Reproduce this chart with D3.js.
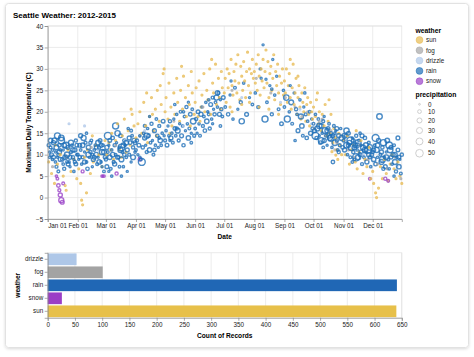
<!DOCTYPE html>
<html><head><meta charset="utf-8">
<script src="https://cdn.jsdelivr.net/npm/d3@7"></script>
<style>
html,body{margin:0;padding:0;background:#fff;}
svg{display:block;font-family:"Liberation Sans",Arial,sans-serif;}
</style></head><body>
<svg id="chart" width="474" height="357"></svg>
<script>
// ---------- data (day offset from Jan 01, max temp °C, precipitation mm) ----------
const weatherTypes = ["sun","fog","drizzle","rain","snow"];
const weatherColors = ["#e7ba52","#a7a7a7","#aec7e8","#1f6fb8","#9b45c8"];
const barColors = ["#e7c04a","#a3a3a3","#aec7e8","#2067b5","#9b3ec6"];
const barCategories = ["drizzle","fog","rain","snow","sun"];
const barCounts = [53,101,641,26,640];
const yTicks = [-5,0,5,10,15,20,25,30,35,40];
const barTicks = [0,50,100,150,200,250,300,350,400,450,500,550,600,650];
const precipLegend = [0,10,20,30,40,50];

const rainDays = [
[1,12.2,6],[2,10.6,1],[3,11.7,4],[4,10,9],[5,8.9,3],[6,12.8,12],[7,13.3,20],[8,8.3,2],[9,7.2,5],[10,9.4,1],[11,6.1,4],[12,10.6,14],[13,11.1,2],[14,13.9,25],[15,8.9,8],[16,7.8,3],[17,6.7,6],[18,9.4,16],[19,12.2,30],[20,10,22],[21,11.7,9],[22,8.3,2],[23,7.2,1],[24,10.6,5],[25,12.2,3],[26,9.4,7],[27,8.9,1],[28,11.1,12],[29,13.3,6],[30,10,2],[2,9.4,2],[5,11.1,3],[8,10.6,1],[12,12.2,8],[16,11.1,1],[20,8.3,4],[23,9.4,11],[27,6.1,2],[29,7.8,9],[10,14.4,28],[14,13.3,35],
[3,13.3,15],[6,9.4,10],[9,11.7,18],[11,10,6],[13,8.9,12],[17,12.2,16],[19,9.4,3],[21,7.8,10],[24,12.8,20],[26,11.1,14],[28,8.3,6],[30,12.2,9],
[31,10,4],[32,8.9,1],[33,12.2,10],[34,11.1,3],[35,7.8,2],[36,9.4,6],[37,13.9,20],[38,10.6,1],[39,12.8,5],[40,8.3,3],[41,6.7,8],[42,11.7,14],[43,9.4,2],[44,10.6,7],[45,13.3,4],[46,7.2,1],[47,8.9,11],[48,11.1,3],[49,12.2,2],[50,10,16],[51,7.8,5],[52,9.4,1],[53,11.7,6],[54,13.3,9],[55,8.3,2],[56,10.6,22],[57,12.2,4],[58,6.1,3],[59,9.4,8],[34,14.4,12],[40,15,2],[46,10,3],[52,12.8,18],[56,7.2,1],
[33,9.4,8],[36,12.2,15],[38,8.3,12],[42,10,20],[44,12.8,6],[48,9.4,10],[50,11.7,9],[53,8.3,14],[55,12.2,12],[58,10.6,18],
[60,8.9,6],[61,7.2,10],[62,10.6,3],[63,12.2,1],[64,9.4,15],[65,6.7,4],[66,11.1,2],[67,13.9,8],[68,8.3,5],[69,7.8,12],[70,10,3],[71,12.8,1],[72,15,22],[73,9.4,6],[74,11.7,2],[75,14.4,9],[76,8.9,18],[77,10.6,4],[78,7.2,2],[79,13.3,7],[80,12.2,1],[81,9.4,3],[82,11.1,11],[83,16.1,2],[84,10,5],[85,12.8,8],[86,8.3,1],[87,14.4,3],[88,11.7,6],[89,13.3,13],[90,10.6,2],[63,6.1,1],[66,5,2],[70,16.7,30],[74,7.2,3],[78,12.2,16],[82,6.1,1],[86,15.6,4],[62,14.4,40],[76,11.7,36],[76,5,2],
[61,11.7,12],[64,13.3,9],[67,10,16],[69,12.2,6],[72,9.4,10],[75,11.1,20],[79,10,8],[81,12.8,15],[84,13.9,11],[88,9.4,18],[90,12.8,9],
[91,11.1,3],[92,13.3,6],[93,10,1],[94,12.2,9],[95,14.4,2],[96,8.9,4],[97,8.3,40],[98,11.7,7],[99,15,3],[100,13.9,12],[101,12.2,1],[102,10.6,5],[103,16.1,2],[104,14.4,8],[105,11.1,14],[106,12.8,3],[107,17.2,6],[108,13.3,1],[109,10,4],[110,15.6,10],[111,12.2,2],[112,18.3,3],[113,14.4,7],[114,11.7,1],[115,16.7,5],[116,13.3,15],[117,12.2,3],[118,15,2],[119,17.8,9],[120,14.4,1],[95,9.4,2],[100,16.7,4],[105,18.9,1],[110,11.1,8],[115,13.9,3],[102,14.4,22],
[121,13.3,5],[122,15.6,2],[123,12.2,9],[124,16.7,1],[125,14.4,3],[126,17.8,6],[127,13.9,12],[128,15,2],[129,12.8,4],[130,18.3,1],[131,16.1,8],[132,14.4,3],[133,19.4,2],[134,15.6,18],[135,13.3,5],[136,17.2,1],[137,20,4],[138,14.4,10],[139,16.7,2],[140,12.2,7],[141,18.9,3],[142,15.6,1],[143,21.1,6],[144,17.2,2],[145,13.9,14],[146,16.1,4],[147,19.4,9],[148,15,1],[149,20.6,3],[150,17.8,25],[151,14.4,5],[126,13.3,1],[133,16.1,6],[140,20,2],[145,22.2,1],[148,12.8,3],[131,21.7,2],
[152,16.1,3],[153,18.3,6],[154,15,1],[155,20,9],[156,17.2,2],[157,14.4,4],[158,19.4,12],[159,21.1,1],[160,16.7,5],[161,18.9,3],[162,15.6,8],[163,22.2,2],[164,17.8,15],[165,20,1],[166,19.4,4],[167,16.1,6],[168,21.7,10],[169,18.3,2],[170,23.3,5],[171,20.6,1],[172,19.4,7],[173,22.2,3],[174,23.3,20],[175,21.1,2],[176,24.4,4],[177,19.4,11],[178,22.8,1],[179,20.6,6],[180,18.9,3],[181,23.3,9],[166,22.8,2],[170,17.2,1],[175,24.4,13],[178,16.7,3],
[183,21.1,3],[186,19.4,8],[188,23.9,1],[191,18.3,2],[193,25.6,4],[196,20.6,1],[199,22.2,6],[202,26.7,2],[205,19.4,10],[208,23.3,1],[211,21.7,3],[189,27.2,1],[200,17.8,22],
[214,24.4,2],[217,21.1,5],[220,27.8,1],[222,35.6,1],[224,18.3,30],[226,22.2,3],[229,26.1,1],[231,19.4,6],[234,23.9,2],[236,28.3,1],[238,20.6,4],[241,17.2,9],[243,25,2],[219,30,1],[232,32.2,1],[225,27.6,1],[231,25.3,2],
[244,21.1,3],[246,23.3,25],[247,18.3,30],[249,20,2],[251,22.2,18],[252,17.2,4],[254,24.4,1],[256,20.6,6],[257,19.4,3],[258,15.6,10],[260,22.8,2],[261,18.9,20],[262,16.7,15],[263,14.4,4],[264,21.1,1],[266,19.4,5],[267,13.9,8],[268,17.8,2],[270,20,3],[271,15,12],[272,18.3,1],[273,16.1,6],[250,26.1,1],[255,13.3,2],[265,24.4,2],
[274,17.2,4],[275,15.6,10],[276,19.4,2],[277,13.9,6],[278,16.1,20],[279,18.3,3],[280,14.4,1],[281,12.8,8],[282,16.7,15],[283,15,2],[284,17.8,5],[285,13.3,12],[286,15.6,30],[287,14.4,4],[288,12.2,1],[289,16.1,9],[290,17.2,3],[291,13.9,18],[292,15,6],[293,11.7,2],[294,14.4,11],[295,16.7,4],[296,12.8,25],[297,15.6,1],[298,13.3,7],[299,11.1,3],[300,14.4,13],[301,12.2,5],[302,16.1,2],[303,13.9,20],[304,11.7,8],[276,14.4,40],[280,16.7,22],[284,11.7,3],[288,15.6,14],[292,13.9,35],[296,15,2],[300,10.6,6],[285,18.9,1],[282,13.3,28],[290,14.4,16],[298,16.1,10],[294,8.3,8],
[305,13.3,5],[306,11.1,12],[307,14.4,3],[308,12.2,25],[309,10,2],[310,15,9],[311,12.8,16],[312,9.4,4],[313,11.7,30],[314,13.9,1],[315,10.6,7],[316,8.9,3],[317,12.2,14],[318,14.4,6],[319,11.1,2],[320,9.4,20],[321,13.3,4],[322,10,10],[323,12.2,1],[324,7.8,5],[325,11.7,18],[326,9.4,3],[327,13.9,8],[328,10.6,2],[329,8.3,12],[330,11.1,35],[331,12.8,4],[332,9.4,6],[333,7.2,2],[334,10,9],[308,15.6,22],[312,13.3,40],[316,11.7,15],[320,12.8,28],[324,14.4,11],[328,12.2,19],[332,11.7,24],[314,8.3,3],[322,15,2],[318,9.4,44],
[306,14.4,18],[310,12.2,12],[315,13.3,9],[319,12.2,16],[323,10.6,12],[327,11.1,20],[331,10,14],
[335,10.6,6],[336,8.9,14],[337,12.2,3],[338,7.8,9],[339,11.1,22],[340,9.4,2],[341,13.3,12],[342,18.9,25],[343,10,4],[344,8.3,18],[345,11.7,7],[346,12.8,30],[347,9.4,3],[348,7.2,10],[349,10.6,1],[350,13.3,16],[351,8.9,5],[352,6.7,2],[353,11.1,25],[354,9.4,8],[355,7.8,3],[356,10,12],[357,12.2,4],[358,8.3,20],[359,6.1,6],[360,9.4,2],[361,11.1,9],[362,7.2,15],[363,8.9,1],[364,5.6,4],[365,10,7],[338,13.9,40],[345,8.9,28],[352,12.2,35],[357,5,2],[361,13.9,10],[346,6.7,6],
[336,11.1,10],[340,12.2,16],[344,10.6,12],[349,9.4,18],[354,11.7,9],[358,10,14],[362,9.4,10]
];

const sunDays = [
[1,8.3,0],[4,5.6,0],[7,3.3,0],[10,7.8,0],[13,10,0],[16,5,0],[18,2.8,0],[21,11.1,0],[24,6.1,0],[27,8.9,0],[30,4.4,0],[8,12.2,0],[19,1.7,0],
[32,6.7,0],[34,3.3,0],[35,-0.6,0],[36,-1.7,0],[38,9.4,0],[41,11.1,0],[44,5.6,0],[47,8.3,0],[50,12.2,0],[53,10,0],[56,7.2,0],[59,13.3,0],[40,1.1,0],[46,14.4,0],
[61,10,0],[63,12.8,0],[66,15,0],[68,8.9,0],[70,13.3,0],[72,17.2,0],[74,11.1,0],[77,14.4,0],[79,18.3,0],[81,10.6,0],[83,15.6,0],[85,12.2,0],[87,19.4,0],[89,16.7,0],[65,11.1,0],[76,9.4,0],[86,20.6,0],
[91,13.9,0],[93,17.2,0],[95,20,0],[97,15,0],[99,22.2,0],[101,16.7,0],[103,12.8,0],[105,18.9,0],[107,23.3,0],[109,15.6,0],[111,20.6,0],[113,25,0],[115,17.8,0],[117,21.7,0],[119,28.9,0],[120,30,0],[102,24.4,0],[108,19.4,0],[116,26.1,0],[112,14.4,0],
[121,20,0],[122,23.3,0],[124,18.3,0],[125,26.7,0],[127,21.1,0],[128,16.7,0],[130,24.4,0],[131,19.4,0],[133,27.8,0],[134,22.2,0],[136,17.8,0],[137,25,0],[139,20.6,0],[140,28.3,0],[142,23.3,0],[143,18.9,0],[145,26.1,0],[146,21.7,0],[148,29.4,0],[149,24.4,0],[151,19.4,0],[126,15,0],[138,30.6,0],[147,16.7,0],
[152,22.2,0],[153,25.6,0],[155,18.9,0],[156,27.2,0],[158,21.1,0],[159,23.9,0],[161,28.9,0],[162,20,0],[164,25,0],[165,22.8,0],[167,30,0],[168,19.4,0],[170,26.7,0],[171,24.4,0],[173,31.1,0],[174,21.7,0],[176,27.8,0],[177,23.3,0],[179,29.4,0],[180,25.6,0],[157,17.8,0],[169,32.2,0],[178,20.6,0],
[182,24.4,0],[183,27.8,0],[184,22.2,0],[185,30,0],[186,25.6,0],[187,28.9,0],[188,21.1,0],[189,32.2,0],[190,26.1,0],[191,23.9,0],[192,29.4,0],[193,27.2,0],[194,31.1,0],[195,24.4,0],[196,33.3,0],[197,26.7,0],[198,22.8,0],[199,30.6,0],[200,28.3,0],[201,25,0],[202,31.7,0],[203,27.2,0],[204,23.3,0],[205,29.4,0],[206,33.9,0],[207,26.1,0],[208,30,0],[209,24.4,0],[210,28.9,0],[211,32.2,0],[212,27.8,0],[190,20,0],[200,21.7,0],[208,22.2,0],
[213,29.4,0],[214,26.7,0],[215,31.1,0],[216,25,0],[217,33.3,0],[218,28.3,0],[219,23.9,0],[220,30,0],[221,27.2,0],[222,32.2,0],[223,25.6,0],[224,29.4,0],[225,34.4,0],[226,26.7,0],[227,31.7,0],[228,23.3,0],[229,28.9,0],[230,30.6,0],[231,25,0],[232,27.8,0],[233,33.3,0],[234,22.8,0],[235,29.4,0],[236,26.1,0],[237,31.1,0],[238,24.4,0],[239,28.3,0],[240,21.7,0],[241,26.7,0],[242,30,0],[243,23.9,0],[218,21.1,0],[228,20.6,0],[238,19.4,0],
[244,27.2,0],[245,24.4,0],[246,30,0],[247,22.2,0],[248,26.1,0],[249,28.9,0],[250,23.3,0],[251,20.6,0],[252,25.6,0],[253,31.1,0],[254,21.7,0],[255,24.4,0],[256,27.8,0],[257,19.4,0],[258,23.3,0],[259,26.1,0],[260,21.1,0],[261,18.3,0],[262,24.4,0],[263,22.2,0],[264,20,0],[265,25.6,0],[266,17.8,0],[267,21.7,0],[268,23.3,0],[269,19.4,0],[270,16.7,0],[271,22.2,0],[272,20,0],[273,18.3,0],[250,32.2,0],[258,28.3,0],
[274,21.1,0],[276,18.9,0],[277,22.8,0],[279,17.2,0],[280,20,0],[282,15.6,0],[283,19.4,0],[285,16.7,0],[286,21.7,0],[288,14.4,0],[289,17.8,0],[291,15,0],[292,19.4,0],[294,12.8,0],[295,16.1,0],[297,13.9,0],[298,11.1,0],[300,15,0],[301,12.2,0],[303,10,0],[278,24.4,0],[290,22.8,0],[299,8.9,0],[293,10.7,0],[297,9.9,0],
[305,13.3,0],[307,10,0],[309,14.4,0],[311,7.8,0],[313,11.1,0],[315,12.2,0],[317,8.3,0],[319,6.7,0],[321,10.6,0],[323,13.3,0],[325,5.6,0],[327,8.9,0],[329,7.2,0],[331,11.7,0],[333,4.4,0],[318,15.6,0],
[335,6.1,0],[336,3.3,0],[338,1.1,0],[339,0,0],[341,2.2,0],[343,7.2,0],[345,4.4,0],[347,8.9,0],[349,5.6,0],[351,3.9,0],[353,7.8,0],[355,10,0],[357,6.7,0],[359,4.4,0],[361,8.3,0],[363,5,0],[365,3.3,0]
];

const fogDays = [
[5,7.2,0],[20,9.4,0],[45,11.7,0],[70,12.2,0],[95,14.4,0],[130,17.8,0],[160,21.1,0],[190,25,0],[215,27.8,0],[230,24.4,0],[245,23.3,0],[255,21.1,0],[262,18.9,0],[268,20,0],[275,16.1,0],[280,17.8,0],[286,14.4,0],[292,15.6,0],[298,12.8,0],[303,14.4,0],[310,11.1,0],[316,9.4,0],[322,12.2,0],[330,8.9,0],[340,7.8,0],[350,6.7,0],[358,9.4,0],[364,4.4,0],[283,18.3,0],[296,11.1,0]
];

const drizzleDays = [
[3,10,0],[15,8.3,0],[22,17.2,0],[38,16.7,0],[52,11.1,0],[80,13.3,0],[100,15.6,0],[140,16.7,0],[165,20,0],[200,23.3,0],[240,22.2,0],[260,20.6,0],[272,17.2,0],[285,15,0],[300,13.9,0],[315,11.7,0],[325,10,0],[345,8.3,0],[360,7.2,0]
];

const snowDays = [
[9,5,2],[10,4.4,3],[11,2.8,8],[12,1.7,5],[13,0.6,12],[14,-0.6,20],[15,-1.1,10],[16,3.3,4],[36,6.1,5],[56,5,2],[57,5,1],[58,5,3],[71,5.6,6],[95,8.9,8],[332,4.4,3],[348,4.4,6],[351,3.9,4]
];

// ---------- build ----------
const svg = d3.select("#chart");
const FONT = '"Liberation Sans",Arial,sans-serif';

const defs = svg.append("defs");
const f = defs.append("filter").attr("id","sh").attr("x","-5%").attr("y","-5%").attr("width","110%").attr("height","110%");
f.append("feDropShadow").attr("dx",0).attr("dy",1).attr("stdDeviation",1.5).attr("flood-color","#000").attr("flood-opacity",0.15);
svg.append("rect").attr("x",5.5).attr("y",3.5).attr("width",463).attr("height",344)
  .attr("rx",3).attr("fill","#fff").attr("stroke","#e2e2e2").attr("filter","url(#sh)");

const day0 = Date.UTC(2012,0,1);
const toDate = d => new Date(day0 + d*864e5);
const x = d3.scaleUtc().domain([toDate(0), toDate(365)]).range([47.7, 401.8]);
const y = d3.scaleLinear().domain([-5,40]).range([219,26]);
const size = d3.scaleLinear().domain([-1,50]).range([1.6,46]);
const rad = p => Math.sqrt(size(p)/Math.PI);
const color = d3.scaleOrdinal().domain(weatherTypes).range(weatherColors);

svg.append("text").attr("x",13).attr("y",18).attr("font-size",8).attr("font-weight","bold")
  .attr("fill","#000").text("Seattle Weather: 2012-2015");

const g = svg.append("g");
g.selectAll("line.yg").data(yTicks).join("line")
  .attr("x1",x.range()[0]).attr("x2",x.range()[1]).attr("y1",d=>y(d)).attr("y2",d=>y(d))
  .attr("stroke","#e4e4e4").attr("stroke-width",0.7);
const monthTicks = d3.utcMonth.range(toDate(0), toDate(366));
g.selectAll("line.xg").data(monthTicks).join("line")
  .attr("x1",d=>x(d)).attr("x2",d=>x(d)).attr("y1",y.range()[0]).attr("y2",y.range()[1])
  .attr("stroke","#e4e4e4").attr("stroke-width",0.7);
g.append("rect").attr("x",x.range()[0]).attr("y",y.range()[1]).attr("width",x.range()[1]-x.range()[0])
  .attr("height",y.range()[0]-y.range()[1]).attr("fill","none").attr("stroke","#e0e0e0").attr("stroke-width",0.7);

const all = [];
sunDays.forEach(d=>all.push({day:d[0],t:d[1],p:d[2],w:"sun"}));
fogDays.forEach(d=>all.push({day:d[0],t:d[1],p:d[2],w:"fog"}));
drizzleDays.forEach(d=>all.push({day:d[0],t:d[1],p:d[2],w:"drizzle"}));
rainDays.forEach(d=>all.push({day:d[0],t:d[1],p:d[2],w:"rain"}));
snowDays.forEach(d=>all.push({day:d[0],t:d[1],p:d[2],w:"snow"}));
all.sort((a,b)=>a.day-b.day);
svg.append("g").selectAll("circle").data(all).join("circle")
  .attr("cx",d=>x(toDate(d.day))).attr("cy",d=>y(d.t)).attr("r",d=>rad(d.p))
  .attr("fill","none").attr("stroke",d=>color(d.w)).attr("stroke-width",1.4).attr("stroke-opacity",0.8);

function styleAxis(sel){
  sel.selectAll(".domain").attr("stroke","#888").attr("stroke-width",0.7);
  sel.selectAll(".tick line").attr("stroke","#888").attr("stroke-width",0.7);
  sel.selectAll(".tick text").attr("fill","#222").attr("font-size",6.3).attr("font-family",FONT);
}
const ya = svg.append("g").attr("transform",`translate(${x.range()[0]},0)`)
  .call(d3.axisLeft(y).tickValues(yTicks).tickSize(3).tickPadding(1.5).tickFormat(d3.format("d")));
styleAxis(ya);
const xa = svg.append("g").attr("transform",`translate(0,${y.range()[0]})`)
  .call(d3.axisBottom(x).tickValues(monthTicks).tickSize(3).tickPadding(2).tickFormat(d3.utcFormat("%b %d")));
styleAxis(xa);
xa.selectAll(".tick text").filter((d,i)=>i===0).attr("text-anchor","start");

svg.append("text").attr("x",(x.range()[0]+x.range()[1])/2).attr("y",239).attr("text-anchor","middle")
  .attr("font-size",6.6).attr("font-weight","bold").text("Date");
svg.append("text").attr("transform",`translate(31,${(y.range()[0]+y.range()[1])/2}) rotate(-90)`)
  .attr("text-anchor","middle").attr("font-size",6.6).attr("font-weight","bold").text("Maximum Daily Temperature (C)");

const lx = 415.5;
svg.append("text").attr("x",lx).attr("y",32.5).attr("font-size",6.8).attr("font-weight","bold").text("weather");
const lw = svg.append("g").selectAll("g").data(weatherTypes).join("g")
  .attr("transform",(d,i)=>`translate(${lx+4},${40+i*10.3})`);
lw.append("circle").attr("r",3.4).attr("fill",d=>color(d)).attr("fill-opacity",0.7).attr("stroke",d=>color(d)).attr("stroke-opacity",0.7).attr("stroke-width",0.8);
lw.append("text").attr("x",6.5).attr("y",2.2).attr("font-size",6.3).attr("fill","#222").text(d=>d);

svg.append("text").attr("x",lx).attr("y",97).attr("font-size",6.8).attr("font-weight","bold").text("precipitation");
let cy = 104.3; const pPos = [];
precipLegend.forEach((v,i)=>{ if(i>0) cy += rad(precipLegend[i-1]) + rad(v) + 4.5; pPos.push(cy); });
const lp = svg.append("g").selectAll("g").data(precipLegend).join("g")
  .attr("transform",(d,i)=>`translate(${lx+4},${pPos[i]})`);
lp.append("circle").attr("r",d=>rad(d)).attr("fill","none").attr("stroke","#cfcfcf").attr("stroke-width",1);
lp.append("text").attr("x",8.5).attr("y",2.2).attr("font-size",6.3).attr("fill","#222").text(d=>d);

const xb = d3.scaleLinear().domain([0,650]).range([47.7,401.8]);
const yb = d3.scaleBand().domain(barCategories).range([252.8,317.8]).paddingInner(0.1).paddingOuter(0.05);
const barColor = d3.scaleOrdinal().domain(weatherTypes).range(barColors);
svg.append("g").selectAll("line").data(barTicks).join("line")
  .attr("x1",d=>xb(d)).attr("x2",d=>xb(d)).attr("y1",252.8).attr("y2",317.8)
  .attr("stroke","#e4e4e4").attr("stroke-width",0.7);
svg.append("rect").attr("x",47.7).attr("y",252.8).attr("width",xb(650)-47.7).attr("height",65)
  .attr("fill","none").attr("stroke","#e0e0e0").attr("stroke-width",0.7);
svg.append("g").selectAll("rect").data(barCategories).join("rect")
  .attr("x",xb(0)).attr("y",d=>yb(d)).attr("height",yb.bandwidth())
  .attr("width",(d,i)=>xb(barCounts[i])-xb(0)).attr("fill",d=>barColor(d));
const yba = svg.append("g").attr("transform","translate(47.7,0)")
  .call(d3.axisLeft(yb).tickSize(3).tickPadding(1.5));
styleAxis(yba);
const xba = svg.append("g").attr("transform","translate(0,317.8)")
  .call(d3.axisBottom(xb).tickValues(barTicks).tickSize(3).tickPadding(2));
styleAxis(xba);
svg.append("text").attr("x",(47.7+401.8)/2).attr("y",338).attr("text-anchor","middle")
  .attr("font-size",6.6).attr("font-weight","bold").text("Count of Records");
svg.append("text").attr("transform","translate(20,285.3) rotate(-90)").attr("text-anchor","middle")
  .attr("font-size",6.6).attr("font-weight","bold").text("weather");
</script></body></html>
